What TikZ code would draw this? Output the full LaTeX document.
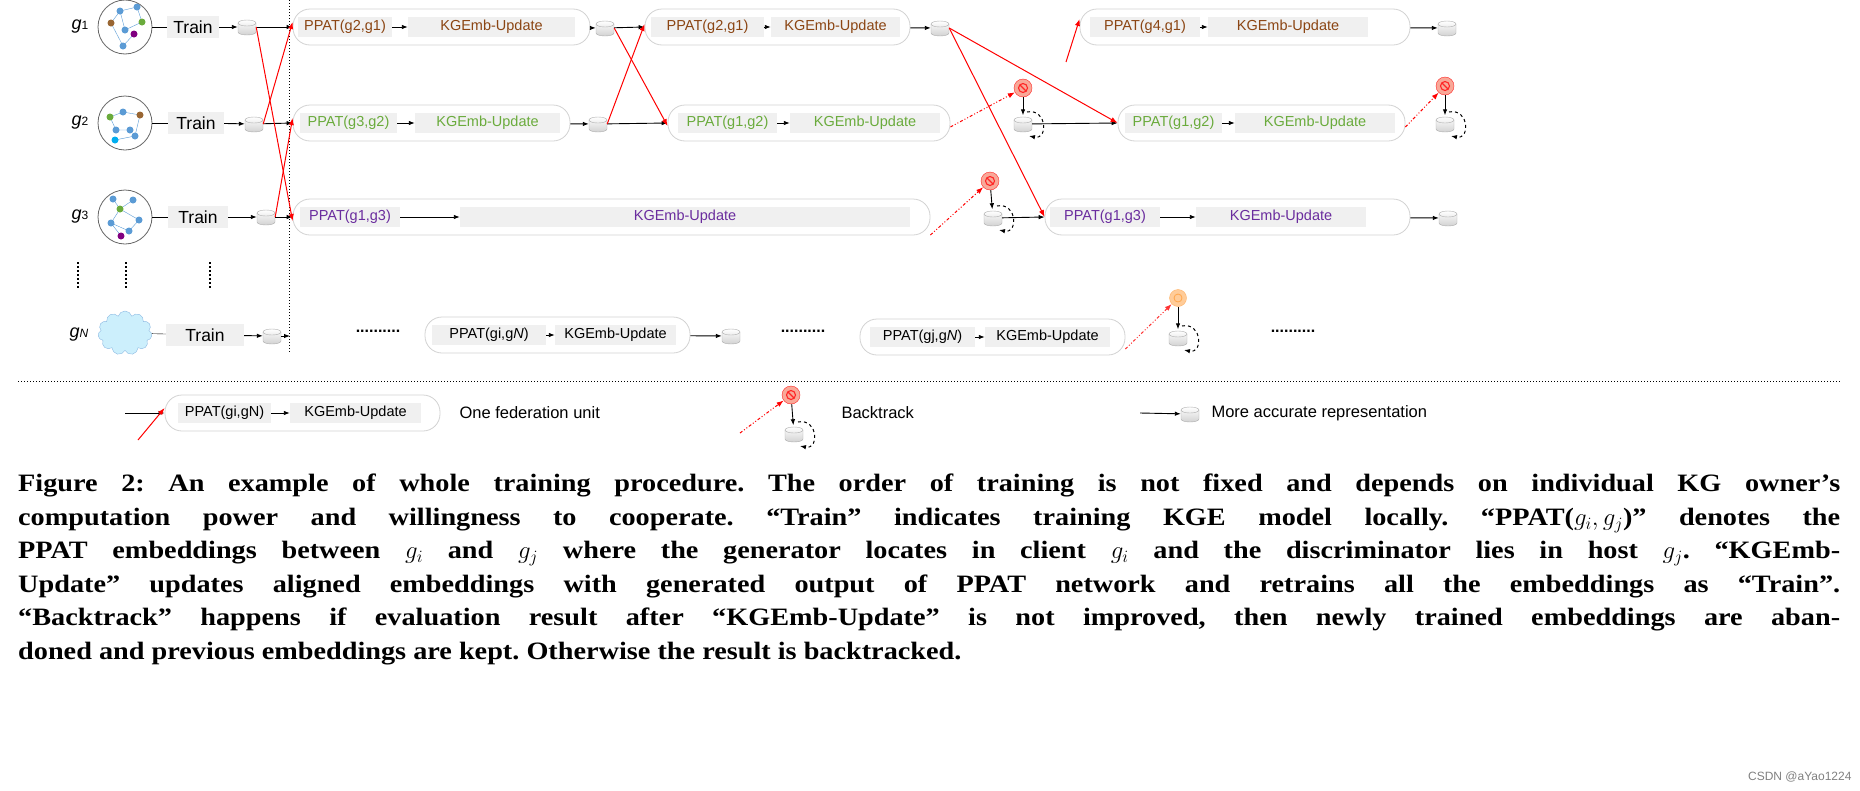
\documentclass[tikz,border=0pt]{standalone}
\usepackage{fontspec}
\setmainfont{Liberation Serif}[FakeStretch=1.13]
\newfontfamily\dsans{Liberation Sans}
\usetikzlibrary{shapes.geometric,shapes.symbols,arrows.meta,calc}
\definecolor{cbrown}{HTML}{8B4513}
\definecolor{cgreen}{HTML}{6AAB3C}
\definecolor{cpurp}{HTML}{6A2C9E}
\definecolor{salmon}{HTML}{F8A898}
\definecolor{nblue}{HTML}{5B9BD5}
\tikzset{
 ubox/.style={draw=gray!35, rounded corners=17pt, minimum height=36pt, line width=0.8pt},
 ibox/.style={fill=gray!12, minimum height=20pt, inner sep=0pt, font=\dsans\fontsize{14.5}{14.5}\selectfont},
 arr/.style={-{Latex[length=6pt]}, line width=0.9pt},
 rarr/.style={red, line width=1pt, -{Latex[length=7pt]}},
 rdd/.style={rarr, dash dot dot},
 glab/.style={font=\dsans\itshape\fontsize{18}{18}\selectfont},
 trbox/.style={fill=gray!12, minimum height=22pt, font=\dsans\fontsize{17.5}{17.5}\selectfont},
 gn/.style={circle, fill=nblue, inner sep=0, minimum size=7pt},
 dotsv/.style={dotted, line width=2pt},
 loopd/.style={dashed, line width=1pt, -{Latex[length=6pt]}},
 edots/.style={font=\dsans\bfseries\fontsize{16}{16}\selectfont},
}
\newcommand\cyl[3]{%
 \node[minimum width=18pt, minimum height=17pt, inner sep=0] (#1) at (#2,#3) {};
 \path[draw=gray!65, top color=white, bottom color=gray!35]
  ([shift={(-9,-4)}]#1.center) -- ([shift={(-9,5)}]#1.center)
  arc[start angle=180,end angle=0,x radius=9,y radius=3]
  -- ([shift={(9,-4)}]#1.center)
  arc[start angle=0,end angle=-180,x radius=9,y radius=3] -- cycle;
 \draw[gray!65] ([shift={(-9,-4)}]#1.center) arc[start angle=180,end angle=0,x radius=9,y radius=3];
}
\newcommand\funit[9]{%
 \node[ubox, minimum width={#4-#3}] (#1) at ({(#3+#4)/2},#2) {};
 \node[ibox, text=uc, minimum width={#7-#6}] (#1p) at ({(#6+#7)/2},#2) {#5};
 \node[ibox, text=uc, minimum width={#9-#8}] (#1k) at ({(#8+#9)/2},#2) {KGEmb-Update};
 \draw[arr] (#1p) -- (#1k);
}
\newcommand\bticon[3]{%
 \node[circle, draw=red!85, fill=salmon, minimum size=18pt, inner sep=0] (#1) at (#2,#3) {};
 \draw[red!85, line width=1.1pt] (#1.center) circle (4.5pt);
 \draw[red!85, line width=1.1pt] ([shift={(-3.2,-3.2)}]#1.center) -- ([shift={(3.2,3.2)}]#1.center);
}
\newcommand\btloop[1]{%
 \draw[loopd] ([shift={(4,-12)}]#1.center) .. controls ([shift={(24,-16)}]#1.center) and ([shift={(26,16)}]#1.center) .. ([shift={(6,12)}]#1.center);
}
\begin{document}
\begin{tikzpicture}[x=1pt,y=-1pt]
\useasboundingbox (0,0) rectangle (1860,790);
% labels
\node[glab] (l1) at (80,27) {g\fontsize{12}{12}\selectfont\upshape 1};
\node[glab] (l2) at (80,123) {g\fontsize{12}{12}\selectfont\upshape 2};
\node[glab] (l3) at (80,217) {g\fontsize{12}{12}\selectfont\upshape 3};
\node[glab] (lN) at (79,335) {g\fontsize{12}{12}\selectfont N};
% graph circles
\foreach \r/\yy in {1/27,2/123,3/217}{
 \node[circle, draw=gray!80!black, line width=0.8pt, minimum size=54pt, inner sep=0] (c\r) at (125,\yy) {};}
\begin{scope}[shift={(125,27)}]
 \draw[nblue] (-14,-4)--(-5,-16)--(12,-20)--(17,-5)--(0,3)--(-5,-16); \draw[nblue] (-14,-4)--(-2,19)--(9,7);
 \node[gn, fill=brown!80!black] at (-14,-4){}; \node[gn] at (-5,-16){}; \node[gn] at (12,-20){};
 \node[gn, fill=cgreen] at (17,-5){}; \node[gn] at (0,3){}; \node[gn] at (-2,19){}; \node[gn, fill=violet] at (9,7){};
\end{scope}
\begin{scope}[shift={(125,123)}]
 \draw[nblue] (-15,-6)--(-2,-11)--(15,-8)--(10,13)--(-10,17); \draw[nblue] (-15,-6)--(-9,7)--(5,7);
 \node[gn, fill=cgreen] at (-15,-6){}; \node[gn] at (-2,-11){}; \node[gn, fill=brown!80!black] at (15,-8){};
 \node[gn] at (10,13){}; \node[gn, fill=cyan] at (-10,17){}; \node[gn] at (-9,7){}; \node[gn] at (5,7){};
\end{scope}
\begin{scope}[shift={(125,217)}]
 \draw[nblue] (-12,-18)--(-5,-8)--(8,-17); \draw[nblue] (-5,-8)--(-14,6)--(-4,19); \draw[nblue] (-5,-8)--(14,3)--(4,14)--(-14,6);
 \node[gn] at (-12,-18){}; \node[gn, fill=cgreen] at (-5,-8){}; \node[gn] at (8,-17){};
 \node[gn] at (-14,6){}; \node[gn, fill=violet] at (-4,19){}; \node[gn] at (14,3){}; \node[gn] at (4,14){};
\end{scope}
\node[cloud, cloud puffs=11, aspect=1.25, draw=nblue!70, fill=cyan!20, minimum width=54pt, minimum height=44pt, inner sep=0] (cN) at (125,333) {};
\draw[dotsv] (78,262) -- (78,289); \draw[dotsv] (126,262) -- (126,289); \draw[dotsv] (210,262) -- (210,289);
% train
\node[trbox, minimum width=52pt] (t1) at (193,27) {Train};
\node[trbox, minimum width=56pt] (t2) at (196,123) {Train};
\node[trbox, minimum width=60pt] (t3) at (198,217) {Train};
\node[trbox, minimum width=78pt] (tN) at (205,335) {Train};
\draw (c1) -- (t1); \draw (c2) -- (t2); \draw (c3) -- (t3); \draw (cN) -- (tN);
\cyl{d1}{247}{27} \cyl{d2}{254}{124} \cyl{d3}{266}{217} \cyl{dN}{272}{336}
\draw[arr] (t1) -- (d1); \draw[arr] (t2) -- (d2); \draw[arr] (t3) -- (d3); \draw[arr] (tN) -- (dN);
\draw[dotted, line width=1pt] (289,0) -- (289,352);
% row 1
\colorlet{uc}{cbrown}
\funit{u11}{27}{293}{590}{PPAT(g2,g1)}{298}{392}{408}{575}
\cyl{d11}{605}{28}
\funit{u12}{27}{645}{910}{PPAT(g2,g1)}{651}{764}{771}{900}
\cyl{d12}{940}{28}
\funit{u13}{27}{1080}{1410}{PPAT(g4,g1)}{1090}{1200}{1208}{1368}
\cyl{d13}{1447}{28}
% row 2
\colorlet{uc}{cgreen}
\funit{u21}{123}{293}{570}{PPAT(g3,g2)}{300}{397}{415}{560}
\cyl{d21}{598}{124}
\funit{u22}{123}{668}{950}{PPAT(g1,g2)}{678}{777}{790}{940}
\bticon{b22}{1023}{88}
\cyl{d22}{1023}{124}
\funit{u23}{123}{1118}{1405}{PPAT(g1,g2)}{1125}{1222}{1235}{1395}
\bticon{b23}{1445}{86}
\cyl{d23}{1445}{124}
% row 3
\colorlet{uc}{cpurp}
\funit{u31}{217}{293}{930}{PPAT(g1,g3)}{300}{400}{460}{910}
\bticon{b31}{990}{181}
\cyl{d31}{993}{218}
\funit{u32}{217}{1045}{1410}{PPAT(g1,g3)}{1050}{1160}{1196}{1366}
\cyl{d32}{1448}{218}
% row N
\colorlet{uc}{black}
\node[edots] (e1) at (378,331) {..........};
\funit{uN1}{335}{425}{690}{PPAT(gi,g\textit{N})}{432}{546}{555}{676}
\cyl{dN1}{731}{336}
\node[edots] (e2) at (803,331) {..........};
\funit{uN2}{337}{860}{1125}{PPAT(gj,g\textit{N})}{870}{975}{985}{1110}
\node[circle, fill=orange!40, draw=orange!60, minimum size=17pt, inner sep=0] (bN) at (1178,298) {};
\draw[orange!70, line width=0.8pt] (bN.center) circle (4pt);
\cyl{dN2}{1178}{338}
\node[edots] (e3) at (1293,331) {..........};
% black arrows
\draw[arr] (d1) -- (u11.west); \draw[arr] (d2) -- (u21.west); \draw[arr] (d3) -- (u31.west); \draw[arr] (dN) -- (dN.east -| 290,0);
\draw[arr] (u11) -- (d11); \draw[arr] (d11) -- (u12.west); \draw[arr] (u12) -- (d12); \draw[arr] (u13) -- (d13);
\draw[arr] (u21) -- (d21); \draw[arr] (d21) -- (u22.west); \draw[arr] (d22) -- (u23.west);
\draw[arr] (d31) -- (u32.west); \draw[arr] (u32) -- (d32); \draw[arr] (uN1) -- (dN1);
\draw[arr] (b22) -- (d22); \draw[arr] (b23) -- (d23); \draw[arr] (b31) -- (d31); \draw[arr] (bN) -- (dN2);
\btloop{d22} \btloop{d23} \btloop{d31} \btloop{dN2}
% red arrows
\draw[rarr] (d1.east) -- ([yshift=-4]u31.west);
\draw[rarr] (d2.east) -- ([yshift=5]u11.west);
\draw[rarr] (d3.east) -- ([yshift=5]u21.west);
\draw[rarr] (d11.east) -- ([yshift=-3]u22.west);
\draw[rarr] (d21.east) -- ([yshift=3]u12.west);
\draw[rarr] (d12.east) -- (u23.west);
\draw[rarr] (d12.east) -- (u32.west);
\coordinate (r0) at (1066,62);
\draw[rarr] (r0) -- ([yshift=8]u13.west);
\draw[rdd] ([yshift=-4]u22.east) -- (b22);
\draw[rdd] ([yshift=-4]u23.east) -- (b23);
\draw[rdd] ([yshift=-18]u31.east) -- (b31);
\draw[rdd, red!80] ([yshift=-12]uN2.east) -- (bN);
% separator
\draw[dotted, line width=1pt] (18,381) -- (1840,381);
% legend
\colorlet{uc}{black}
\funit{lu}{413}{165}{440}{PPAT(gi,gN)}{178}{271}{290}{421}
\coordinate (la) at (125,413);
\draw[arr] (la) -- (lu.west);
\coordinate (lr) at (138,440);
\draw[rarr] (lr) -- ([yshift=5]lu.west);
\node[anchor=west, font=\dsans\fontsize{16.5}{16.5}\selectfont] (lt1) at (456,413) {One federation unit};
\bticon{lb}{791}{395}
\cyl{ld}{794}{434}
\draw[arr] (lb) -- (ld); \btloop{ld}
\coordinate (lq) at (740,433);
\draw[rdd] (lq) -- (lb);
\node[anchor=west, font=\dsans\fontsize{16.5}{16.5}\selectfont] (lt2) at (838,413) {Backtrack};
\cyl{lc}{1190}{414}
\coordinate (lp) at (1140,413);
\draw[arr] (lp) -- (lc);
\node[anchor=west, font=\dsans\fontsize{16.5}{16.5}\selectfont] (lt3) at (1208,413) {More accurate representation};
% caption
\node[anchor=north west, text width=1822pt, align=justify, inner sep=0, font=\bfseries\fontsize{25}{33.5}\selectfont] (cap) at (18,474) {\frenchspacing\emergencystretch=3em Figure 2: An example of whole training procedure. The order of training is not fixed and depends on individual KG owner's\linebreak computation power and willingness to cooperate. “Train” indicates training KGE model locally. “PPAT($g_i,g_j$)” denotes the\linebreak PPAT embeddings between $g_i$ and $g_j$ where the generator locates in client $g_i$ and the discriminator lies in host $g_j$. “KGEmb-\linebreak Update” updates aligned embeddings with generated output of PPAT network and retrains all the embeddings as “Train”.\linebreak “Backtrack” happens if evaluation result after “KGEmb-Update” is not improved, then newly trained embeddings are aban-\linebreak doned and previous embeddings are kept. Otherwise the result is backtracked.};
\node[anchor=south east, text=gray, font=\dsans\fontsize{12}{12}\selectfont] (wm) at (1855,786) {CSDN @aYao1224};
\end{tikzpicture}
\end{document}
